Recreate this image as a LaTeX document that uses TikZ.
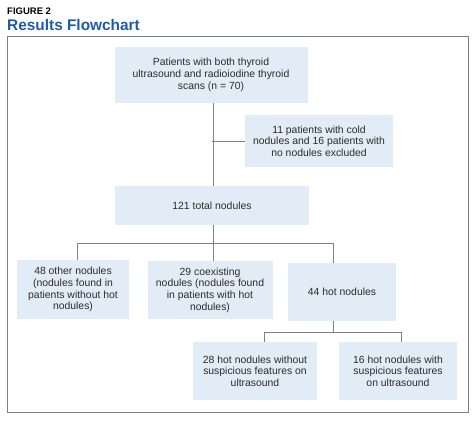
\documentclass[tikz,border=0pt]{standalone}
\usepackage{fontspec}
\setmainfont{Liberation Sans}
\usepackage{tikz}
\definecolor{boxblue}{HTML}{E1ECF6}
\definecolor{titleblue}{HTML}{1F5AA6}
\definecolor{linegray}{HTML}{808080}
\definecolor{textgray}{HTML}{2B2B2B}
\tikzstyle{resultbox}=[
        fill=boxblue,
        align=center,
        inner sep=0pt,
        text=textgray,
        font=\fontsize{10.4}{11.7}\selectfont
]
\tikzstyle{link}=[
        draw=linegray,
        line width=0.9pt
]

\begin{document}
\begin{tikzpicture}[x=1pt,y=-1pt]
                        \useasboundingbox (0,0) rectangle (474,421);
                        \node[anchor=base west,inner sep=0pt,font=\bfseries\fontsize{9.5}{10}\selectfont] (fig) at (7,14) {FIGURE 2};
                        \node[anchor=base west,inner sep=0pt,text=titleblue,font=\bfseries\fontsize{15.4}{17}\selectfont] (title) at (7,30) {Results Flowchart};

                        \draw[linegray,line width=0.9pt] (7,36) rectangle (468,412);

                        \node[resultbox,minimum width=193,minimum height=56] (patients) at (211,75)
                            {Patients with both thyroid\\ultrasound and radioiodine thyroid\\scans (n = 70)};
                        \node[resultbox,minimum width=148,minimum height=52] (excluded) at (319,141)
                            {11 patients with cold\\nodules and 16 patients with\\no nodules excluded};
                        \node[resultbox,minimum width=194,minimum height=39] (total) at (212,205.5)
                            {121 total nodules};

                        \node[resultbox,minimum width=112,minimum height=59] (other) at (73,289.5)
                            {48 other nodules\\(nodules found in\\patients without hot\\nodules)};
                        \node[resultbox,minimum width=125,minimum height=58] (coexist) at (210,290)
                            {29 coexisting\\nodules (nodules found\\in patients with hot\\nodules)};
                        \node[resultbox,minimum width=108,minimum height=58] (hot) at (342,292)
                            {44 hot nodules};

                        \node[resultbox,minimum width=124,minimum height=58] (nosusp) at (255,371)
                            {28 hot nodules without\\suspicious features on\\ultrasound};
                        \node[resultbox,minimum width=118,minimum height=58] (susp) at (398,371)
                            {16 hot nodules with\\suspicious features\\on ultrasound};

                        % main trunk
                        \draw[link] ([xshift=2]patients.south) -- ([xshift=1]total.north);
                        \draw[link] (excluded.west) -- (excluded.west -| total.north);

                        % split of the nodules
                        \draw[link] ([xshift=1]total.south) -- ([xshift=3]coexist.north);
                        \draw[link] ([xshift=4]other.north) |- ([yshift=-18]total.south) -| ([xshift=-9]hot.north);

                        % split of the hot nodules
                        \draw[link] ([xshift=-9]hot.south) -- ++(0,11) coordinate (hotsplit);
                        \draw[link] ([xshift=9]nosusp.north) |- (hotsplit) -| ([xshift=3]susp.north);
\end{tikzpicture}
\end{document}
